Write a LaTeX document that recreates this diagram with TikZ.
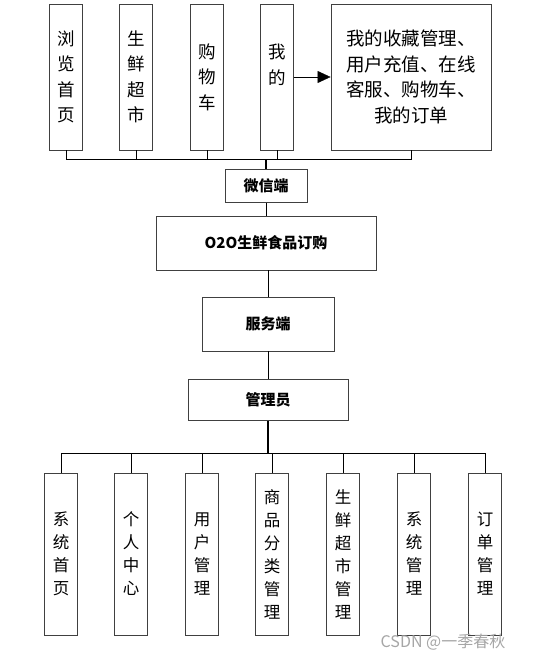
\documentclass[tikz,border=0pt]{standalone}
\usepackage{fontspec}
\newfontfamily\cjk{Noto Sans CJK SC}
\usetikzlibrary{arrows.meta}
\tikzset{
    vbox/.style={draw=black!75, line width=0.9pt, minimum width=33pt, inner sep=0pt, align=center},
    topfont/.style={font=\cjk\fontsize{17.5}{25.5}\selectfont},
    lowfont/.style={font=\cjk\fontsize{16.5}{23}\selectfont},
    hbox/.style={draw=black!75, line width=0.9pt, inner sep=0pt, font=\cjk\bfseries\fontsize{15}{18}\selectfont},
    bus/.style={line width=0.8pt},
    trunk/.style={line width=1.6pt}
}
\begin{document}
\begin{tikzpicture}[x=1pt,y=-1pt]
    \useasboundingbox (0,0) rectangle (554,661);
    % wechat side
    \node[vbox,topfont,minimum height=146pt] (browse) at (66,77) {浏\\览\\首\\页};
    \node[vbox,topfont,minimum height=146pt] (market) at (136,77) {生\\鲜\\超\\市};
    \node[vbox,topfont,minimum height=146pt] (cart) at (207,77) {购\\物\\车};
    \node[vbox,topfont,minimum height=146pt] (mine) at (277,77) {我\\的\\\mbox{}};
    \node[vbox,minimum width=160pt,minimum height=146pt,font=\cjk\fontsize{18.5}{25.5}\selectfont] (minelist) at (411,77) {我的收藏管理、\\用户充值、在线\\客服、购物车、\\我的订单};
    \draw[-{Triangle[length=13pt,width=12pt]}] (mine) -- (minelist);
    \node[hbox,minimum width=82pt,minimum height=33pt] (wx) at (266,186) {微信端};
    \coordinate (topbus) at (266,159);
    \draw[bus] (browse.south) |- (topbus);
    \draw[bus] (market.south) |- (topbus);
    \draw[bus] (cart.south) |- (topbus);
    \draw[bus] (mine.south) |- (topbus);
    \draw[bus] (minelist.south) |- (topbus);
    \draw[trunk] (topbus) -- (wx.north);
    % middle
    \node[hbox,minimum width=220pt,minimum height=54pt] (o2o) at (266,243) {O2O生鲜食品订购};
    \node[hbox,minimum width=132pt,minimum height=54pt] (server) at (268,324) {服务端};
    \node[hbox,minimum width=160pt,minimum height=41pt] (admin) at (268,400) {管理员};
    \draw[bus] (wx) -- (o2o);
    \draw[bus] (o2o.south -| server) -- (server);
    \draw[bus] (server) -- (admin);
    % admin side
    \coordinate (lowbus) at (268,453);
    \draw[trunk] (admin.south) -- (lowbus);
    \foreach \name/\x/\txt in {home/61/系\\统\\首\\页, center/131/个\\人\\中\\心, user/202/用\\户\\管\\理,
        category/272/商\\品\\分\\类\\管\\理, fresh/343/生\\鲜\\超\\市\\管\\理,
        system/414/系\\统\\管\\理, order/485/订\\单\\管\\理} {
        \node[vbox,lowfont,minimum height=162pt] (\name) at (\x,554) {\txt};
        \draw[bus] (\name.north) |- (lowbus);
    }
    \node[font=\cjk\fontsize{16}{18}\selectfont,text=black!35] (mark) at (443,642) {CSDN @一季春秋};
\end{tikzpicture}
\end{document}
